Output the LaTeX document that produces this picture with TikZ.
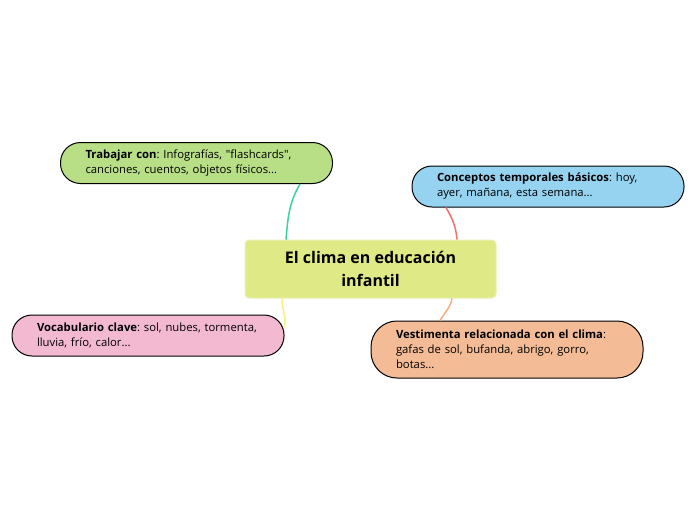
\documentclass[tikz,border=0pt]{standalone}
\usepackage{fontspec}
\setmainfont{Open Sans}[Ligatures=TeXOff]
\usetikzlibrary{positioning}
\frenchspacing

\definecolor{mainfill}{HTML}{DFE986}
\definecolor{mainline}{HTML}{EBF0B8}
\definecolor{workfill}{HTML}{B8DE86}
\definecolor{timefill}{HTML}{96D3F1}
\definecolor{vocabfill}{HTML}{F2B9D0}
\definecolor{clothfill}{HTML}{F4BC96}
\definecolor{greenline}{HTML}{3BD39B}
\definecolor{redline}{HTML}{F56E6E}
\definecolor{yellowline}{HTML}{F7EE80}
\definecolor{orangeline}{HTML}{F7AC7C}

\tikzset{
  topic/.style={draw=mainline, line width=1pt, fill=mainfill, rounded corners=4pt,
    minimum width=251pt, minimum height=58pt, align=center, inner sep=0pt,
    font=\fontsize{16}{23}\selectfont\bfseries},
  branch/.style={draw=black, line width=1pt, rounded corners=20pt,
    minimum width=270pt, minimum height=41pt, inner xsep=25pt, inner ysep=0pt,
    text width=222pt, align=left, font=\fontsize{11.3}{15}\selectfont},
  link/.style={line width=1.5pt}
}

\begin{document}
\begin{tikzpicture}[x=1pt,y=-1pt]
        \useasboundingbox (0,0) rectangle (696,520);

        % Central node
        \node[topic] (main) at (370.5,269) {El clima en educación\\infantil};

        % Branch nodes
        \node[branch, fill=workfill, minimum width=269pt] (work) at (196.5,163)
          {\textbf{Trabajar con}: Infografías, "flashcards",\\canciones, cuentos, objetos físicos...};
        \draw[link, greenline] ([xshift=-84.5pt]main.north) to[out=85,in=240] ([xshift=103.5pt]work.south);

        \node[branch, fill=timefill] (time) at (548,186.5)
          {\textbf{Conceptos temporales básicos}: hoy,\\ayer, mañana, esta semana...};
        \draw[link, redline] ([xshift=86.5pt]main.north) to[out=95,in=300] ([xshift=-102pt]time.south);

        \node[branch, fill=vocabfill] (vocab) at (148,335.5)
          {\textbf{Vocabulario clave}: sol, nubes, tormenta,\\lluvia, frío, calor...};
        \draw[link, yellowline] ([xshift=-88.5pt]main.south) to[out=-90,in=80] ([yshift=8pt]vocab.east);

        \node[branch, fill=clothfill, minimum width=272pt, minimum height=57pt, rounded corners=26pt] (cloth) at (507,349.5)
          {\textbf{Vestimenta relacionada con el clima}:\\gafas de sol, bufanda, abrigo, gorro,\\botas...};
        \draw[link, orangeline] ([xshift=81.5pt]main.south) to[out=-100,in=60] ([xshift=-67pt]cloth.north);
\end{tikzpicture}
\end{document}
